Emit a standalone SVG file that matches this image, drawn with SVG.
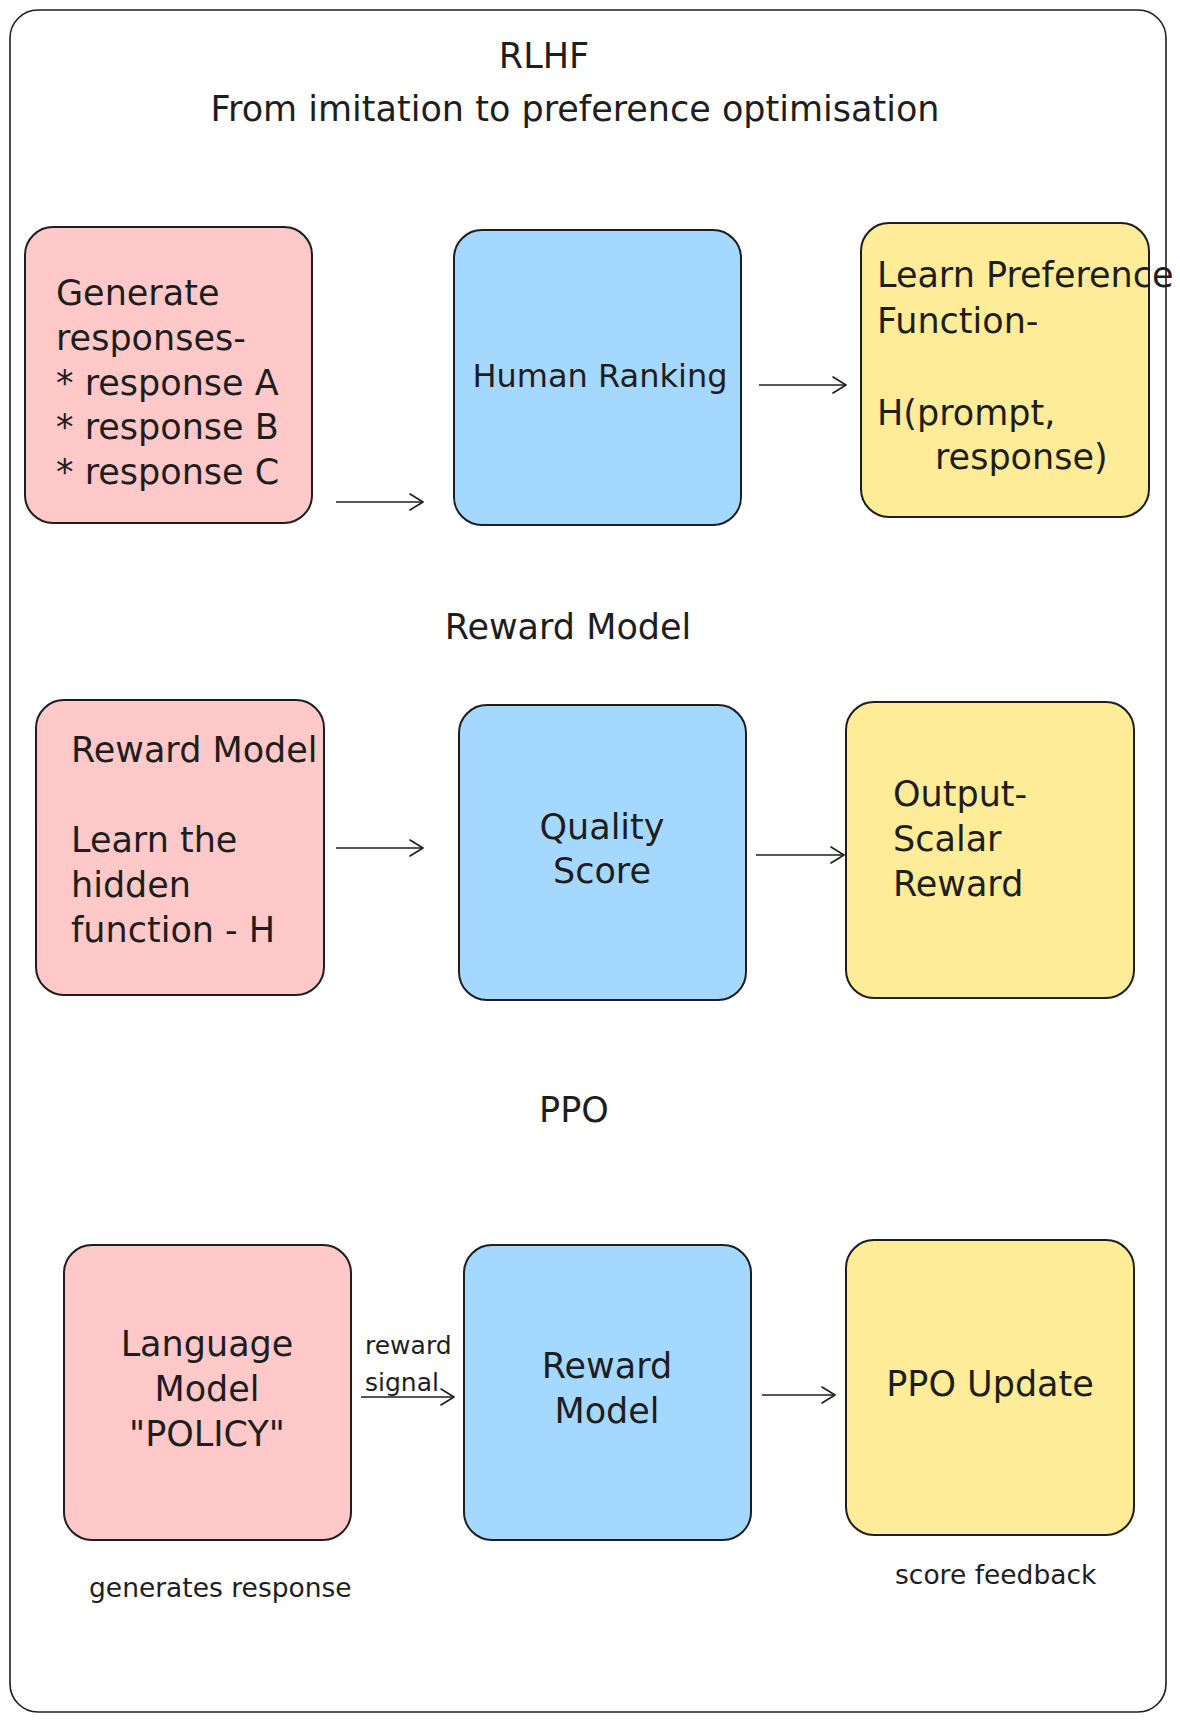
<svg xmlns="http://www.w3.org/2000/svg" width="1180" height="1722" viewBox="0 0 1180 1722">
<defs>
<marker id="arr" markerUnits="userSpaceOnUse" markerWidth="20" markerHeight="20" refX="14" refY="9" orient="auto">
<path d="M1,1 L14,9 L1,17" fill="none" stroke="#1e1e1e" stroke-width="1.6" stroke-linecap="round" stroke-linejoin="round"/>
</marker>
<style>
.t{font-family:"DejaVu Sans","Liberation Sans",sans-serif;font-size:35px;fill:#1e1e1e}
.s{font-family:"DejaVu Sans","Liberation Sans",sans-serif;font-size:26.5px;fill:#1e1e1e}
.r{font-size:25px}
.m{text-anchor:middle}
.box{stroke:#1e1e1e;stroke-width:2}
.pink{fill:#ffc9c9}
.blue{fill:#a5d8ff}
.yel{fill:#ffec99}
.edge{fill:none;stroke:#1e1e1e;stroke-width:1.6;marker-end:url(#arr)}
</style>
</defs>
<rect width="1180" height="1722" fill="#ffffff"/>
<g id="frame">
<rect x="10" y="10" width="1156" height="1702" rx="28" fill="none" stroke="#1e1e1e" stroke-width="1.6"/>
</g>
<g id="titles">
<text class="t m" x="544" y="68">RLHF</text>
<text class="t m" x="575" y="121">From imitation to preference optimisation</text>
<text class="t m" x="568" y="639">Reward Model</text>
<text class="t m" x="574" y="1122">PPO</text>
</g>
<g id="generate">
<rect class="box pink" x="25" y="227" width="287" height="296" rx="28"/>
<text class="t" x="56" y="305">Generate</text>
<text class="t" x="56" y="350">responses-</text>
<text class="t" x="56" y="395">* response A</text>
<text class="t" x="56" y="439">* response B</text>
<text class="t" x="56" y="484">* response C</text>
</g>
<g id="human-ranking">
<rect class="box blue" x="454" y="230" width="287" height="295" rx="28"/>
<text class="t m" x="600" y="387" style="font-size:32px">Human Ranking</text>
</g>
<g id="learn-preference">
<rect class="box yel" x="861" y="223" width="288" height="294" rx="28"/>
<text class="t" x="877" y="287">Learn Preference</text>
<text class="t" x="877" y="333">Function-</text>
<text class="t" x="877" y="425">H(prompt,</text>
<text class="t" x="935" y="469">response)</text>
</g>
<g id="reward-model-learn">
<rect class="box pink" x="36" y="700" width="288" height="295" rx="28"/>
<text class="t" x="71" y="762">Reward Model</text>
<text class="t" x="71" y="852">Learn the</text>
<text class="t" x="71" y="897">hidden</text>
<text class="t" x="71" y="942">function - H</text>
</g>
<g id="quality-score">
<rect class="box blue" x="459" y="705" width="287" height="295" rx="28"/>
<text class="t m" x="602" y="839">Quality</text>
<text class="t m" x="602" y="883">Score</text>
</g>
<g id="output-scalar">
<rect class="box yel" x="846" y="702" width="288" height="296" rx="28"/>
<text class="t" x="893" y="806">Output-</text>
<text class="t" x="893" y="851">Scalar</text>
<text class="t" x="893" y="896">Reward</text>
</g>
<g id="language-model">
<rect class="box pink" x="64" y="1245" width="287" height="295" rx="28"/>
<text class="t m" x="207" y="1356">Language</text>
<text class="t m" x="207" y="1401">Model</text>
<text class="t m" x="207" y="1446">"POLICY"</text>
</g>
<g id="reward-model">
<rect class="box blue" x="464" y="1245" width="287" height="295" rx="28"/>
<text class="t m" x="607" y="1378">Reward</text>
<text class="t m" x="607" y="1423">Model</text>
</g>
<g id="ppo-update">
<rect class="box yel" x="846" y="1240" width="288" height="295" rx="28"/>
<text class="t m" x="990" y="1396">PPO Update</text>
</g>
<g id="connectors">
<line class="edge" x1="336" y1="502" x2="423" y2="502"/>
<line class="edge" x1="759" y1="385" x2="846" y2="385"/>
<line class="edge" x1="336" y1="848" x2="423" y2="848"/>
<line class="edge" x1="756" y1="855" x2="844" y2="855"/>
<line class="edge" x1="361" y1="1397" x2="454" y2="1397"/>
<line class="edge" x1="762" y1="1395" x2="835" y2="1395"/>
</g>
<g id="labels">
<text class="s r" x="365" y="1354">reward</text>
<text class="s r" x="365" y="1391">signal</text>
<text class="s" x="89" y="1597">generates response</text>
<text class="s" x="895" y="1584">score feedback</text>
</g>
</svg>
